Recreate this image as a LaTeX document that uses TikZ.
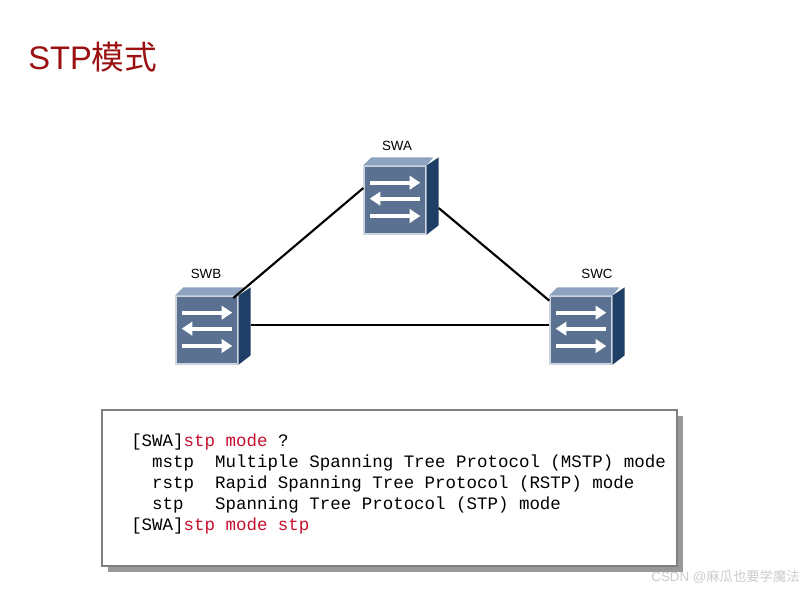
\documentclass[tikz,border=0pt]{standalone}
\usepackage{fontspec}
\setmainfont{Liberation Sans}
\newfontfamily\cjk{Noto Sans CJK SC}
\newfontfamily\mono{Liberation Mono}
\usetikzlibrary{arrows.meta}
\definecolor{face}{HTML}{5B7191}
\definecolor{topc}{HTML}{8EA3BF}
\definecolor{side}{HTML}{1F3F66}
\definecolor{titr}{HTML}{9B1010}
\definecolor{cmd}{HTML}{C8102E}
\tikzset{
  swface/.style={draw=white!70!face,line width=1pt,fill=face,minimum width=46.5pt,minimum height=51pt,inner sep=0pt},
  arr/.style={white,line width=2.8pt,-{Triangle[length=8pt,width=10pt]}},
  lab/.style={font=\fontsize{10}{12}\selectfont},
  link/.style={line width=1.6pt},
  code/.style={font=\mono\fontsize{13.1}{15}\selectfont,anchor=base west,inner sep=0pt}
}
\newcommand{\mysw}[3]{%
  \node[swface] (#1) at (#2,#3) {};
  \fill[topc] (#1.north west) -- ++(6pt,6pt) -- ++(46.5pt,0) -- (#1.north east) -- cycle;
  \fill[side] (#1.north east) -- ++(9pt,6pt) -- ++(0,-51pt) -- (#1.south east) -- cycle;
  \draw[arr] ([xshift=-19pt,yshift=13pt]#1.center) -- ([xshift=19pt,yshift=13pt]#1.center);
  \draw[arr] ([xshift=19pt,yshift=1pt]#1.center) -- ([xshift=-19pt,yshift=1pt]#1.center);
  \draw[arr] ([xshift=-19pt,yshift=-12pt]#1.center) -- ([xshift=19pt,yshift=-12pt]#1.center);
}
\begin{document}
\begin{tikzpicture}[x=0.75pt,y=-0.75pt]
\useasboundingbox[fill=white] (0,0) rectangle (811,592);
\node[anchor=west,text=titr,font=\fontsize{24.5}{28}\selectfont,inner sep=0pt] (title) at (28,57) {STP{\cjk 模式}};
\mysw{swa}{395}{200}
\mysw{swb}{207}{330}
\mysw{swc}{581}{330}
\node[lab] (la) at (397,146) {SWA};
\node[lab] (lb) at (206,274) {SWB};
\node[lab] (lc) at (597,274) {SWC};
\draw[link] ([yshift=9pt]swa.west) -- ([xshift=-4pt,yshift=-2pt]swb.north east);
\draw[link] ([xshift=9pt,yshift=-6pt]swa.east) -- ([yshift=-4pt]swc.north west);
\draw[link] ([xshift=9pt,yshift=4pt]swb.east) -- ([yshift=4pt]swc.west);
\fill[gray!80] (108,416) rectangle (683,572);
\node[draw=gray,line width=1.5pt,fill=white,minimum width=431pt,minimum height=117pt,inner sep=0pt] (box) at (389.5,488) {};
\node[code] (l1) at (131,446) {[SWA]\textcolor{cmd}{stp mode} ?};
\node[code] (l2) at (131,467) {\ \ mstp\ \ Multiple Spanning Tree Protocol (MSTP) mode};
\node[code] (l3) at (131,488) {\ \ rstp\ \ Rapid Spanning Tree Protocol (RSTP) mode};
\node[code] (l4) at (131,509) {\ \ stp\ \ \ Spanning Tree Protocol (STP) mode};
\node[code] (l5) at (131,530) {[SWA]\textcolor{cmd}{stp mode stp}};
\node[anchor=east,text=gray!40,font=\fontsize{10}{12}\selectfont,inner sep=0pt] (wm) at (800,577) {CSDN @{\cjk 麻瓜也要学魔法}};
\end{tikzpicture}
\end{document}
